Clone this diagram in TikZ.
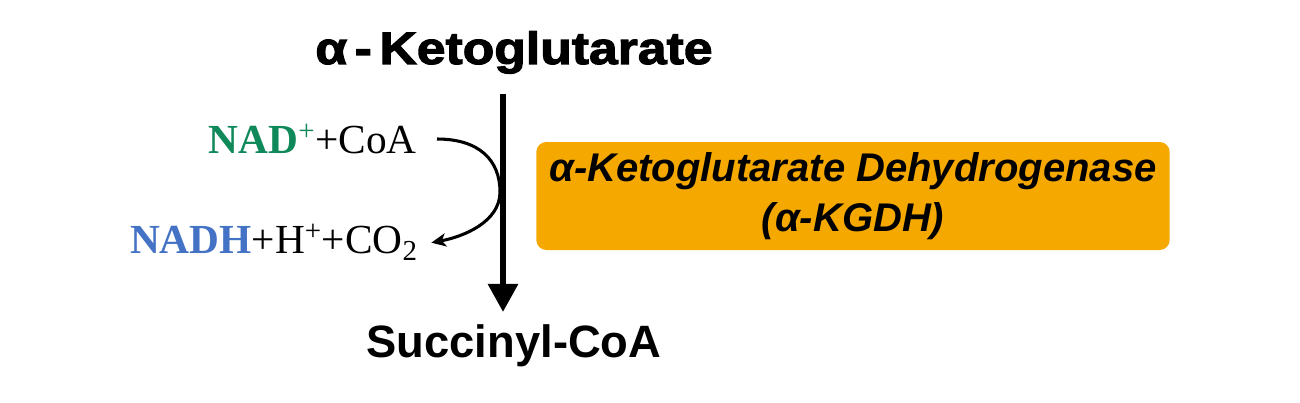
\documentclass[tikz,border=0pt]{standalone}
\usepackage{fontspec}
\setmainfont{Liberation Serif}
\setsansfont{Liberation Sans}
\newfontfamily\blackfont{Liberation Sans Bold}[FakeStretch=1.14,FakeBold=2.5]
\usetikzlibrary{arrows.meta}
\definecolor{nadgreen}{RGB}{16,137,90}
\definecolor{nadhblue}{RGB}{68,114,196}
\definecolor{enzorange}{RGB}{245,168,0}

\begin{document}
\begin{tikzpicture}[x=0.75pt,y=-0.75pt,
    metab/.style={inner sep=0pt, font=\sffamily\bfseries\fontsize{34}{40}\selectfont},
    cofac/.style={inner sep=0pt, font=\fontsize{31}{36}\selectfont},
    enzyme/.style={fill=enzorange, rounded corners=7.5pt, minimum width=475pt, minimum height=81pt,
      align=center, font=\sffamily\bfseries\itshape\fontsize{30}{37.5}\selectfont}]
    \useasboundingbox (0,0) rectangle (1300,403);

    % substrate and product
    \node [metab, anchor=base, font=\blackfont\fontsize{34}{40}\selectfont] (akg) at (514,64) {α\,-\,Ketoglutarate};
    \node [metab, anchor=base] (succ) at (514,357) {Succinyl-CoA};
    \coordinate (axis) at (503,0);
    \draw [line width=4pt, -{Triangle[length=21pt,width=22pt]}] ([yshift=-15pt]akg.south -| axis) -- ([yshift=9pt]succ.north -| axis);

    % cofactors
    \node [cofac, anchor=base east] (nad) at (417,153) {{\color{nadgreen}\textbf{NAD}\textsuperscript{+}}+CoA};
    \node [cofac, anchor=base east] (nadh) at (418,253) {{\color{nadhblue}\textbf{NADH}}+H\textsuperscript{+}+CO\textsubscript{2}};
    \coordinate (bend) at (500,192);
    \draw [line width=2.3pt, -{Stealth[length=11pt,width=10pt,inset=3pt]}] ([xshift=15pt]nad.east) .. controls +(42,0) and +(0,-32) .. (bend) .. controls +(0,30) and +(32,-6) .. ([xshift=10pt]nadh.east);

    % enzyme
    \node [enzyme] (kgdh) at (853,196) {α-Ketoglutarate Dehydrogenase\\(α-KGDH)};
\end{tikzpicture}
\end{document}
